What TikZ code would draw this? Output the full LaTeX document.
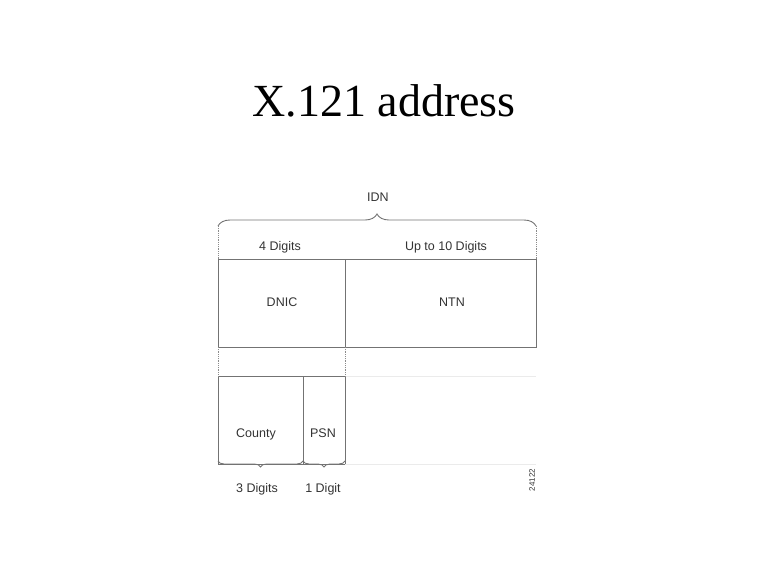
\documentclass[tikz,border=0pt]{standalone}
\usepackage{fontspec}
\setmainfont{Liberation Serif}
\newfontfamily\labelfont{Liberation Sans}
\usetikzlibrary{decorations.pathreplacing}

\begin{document}
\begin{tikzpicture}[x=1pt, y=-1pt,
  field/.style={draw=black!55, line width=0.9pt, minimum width=#1, minimum height=88pt, inner sep=0pt, outer sep=0pt},
  txt/.style={font=\labelfont\fontsize{12.5}{14}\selectfont, text=black!80, text height=9pt, text depth=2.5pt},
  guide/.style={draw=black!45, densely dotted, line width=0.8pt},
  bracket/.style={draw=black!55, line width=0.9pt, decorate, decoration={brace, amplitude=#1}}]

\useasboundingbox (0, 0) rectangle (768, 576);

\node[font=\fontsize{46}{50}\selectfont] (title) at (384, 101) {X.121 address};

% fields
\node[field=127pt] (dnic) at (281.5, 303) {};
\node[field=191pt] (ntn) at (440.5, 303) {};
\node[field=85pt] (county) at (260.5, 420) {};
\node[field=42pt] (psn) at (324, 420) {};

\node[txt] at (282, 303) {DNIC};
\node[txt] at (452, 303) {NTN};
\node[txt] at (256, 434) {County};
\node[txt] at (323, 434) {PSN};

% faint lines
\draw[black!8] (psn.north east) -- (ntn.east |- psn.north);
\draw[black!8] (psn.south east) -- (ntn.east |- psn.south);

% dashed guides
\coordinate (idnleft) at (218, 226);
\coordinate (idnright) at (536, 226);
\draw[guide] (idnleft) -- (dnic.north west);
\draw[guide] (idnright) -- (ntn.north east);
\draw[guide] (dnic.south west) -- (county.north west);
\draw[guide] (dnic.south east) -- (psn.north east);

% braces
\draw[bracket=12pt] (idnleft) -- (idnright);
\draw[bracket=6pt] ([yshift=3pt]county.south east) -- ([yshift=3pt]county.south west);
\draw[bracket=6pt] ([yshift=3pt]psn.south east) -- ([yshift=3pt]psn.south west);

\node[txt] (idn) at (378, 198) {IDN};
\node[txt] (four) at (280, 247) {4 Digits};
\node[txt] (ten) at (446, 247) {Up to 10 Digits};
\node[txt] (three) at (257, 489) {3 Digits};
\node[txt] (one) at (323, 489) {1 Digit};
\node[txt, font=\labelfont\fontsize{8}{9}\selectfont, rotate=90, text height=, text depth=] (fig) at (532, 480) {24122};

\end{tikzpicture}
\end{document}
